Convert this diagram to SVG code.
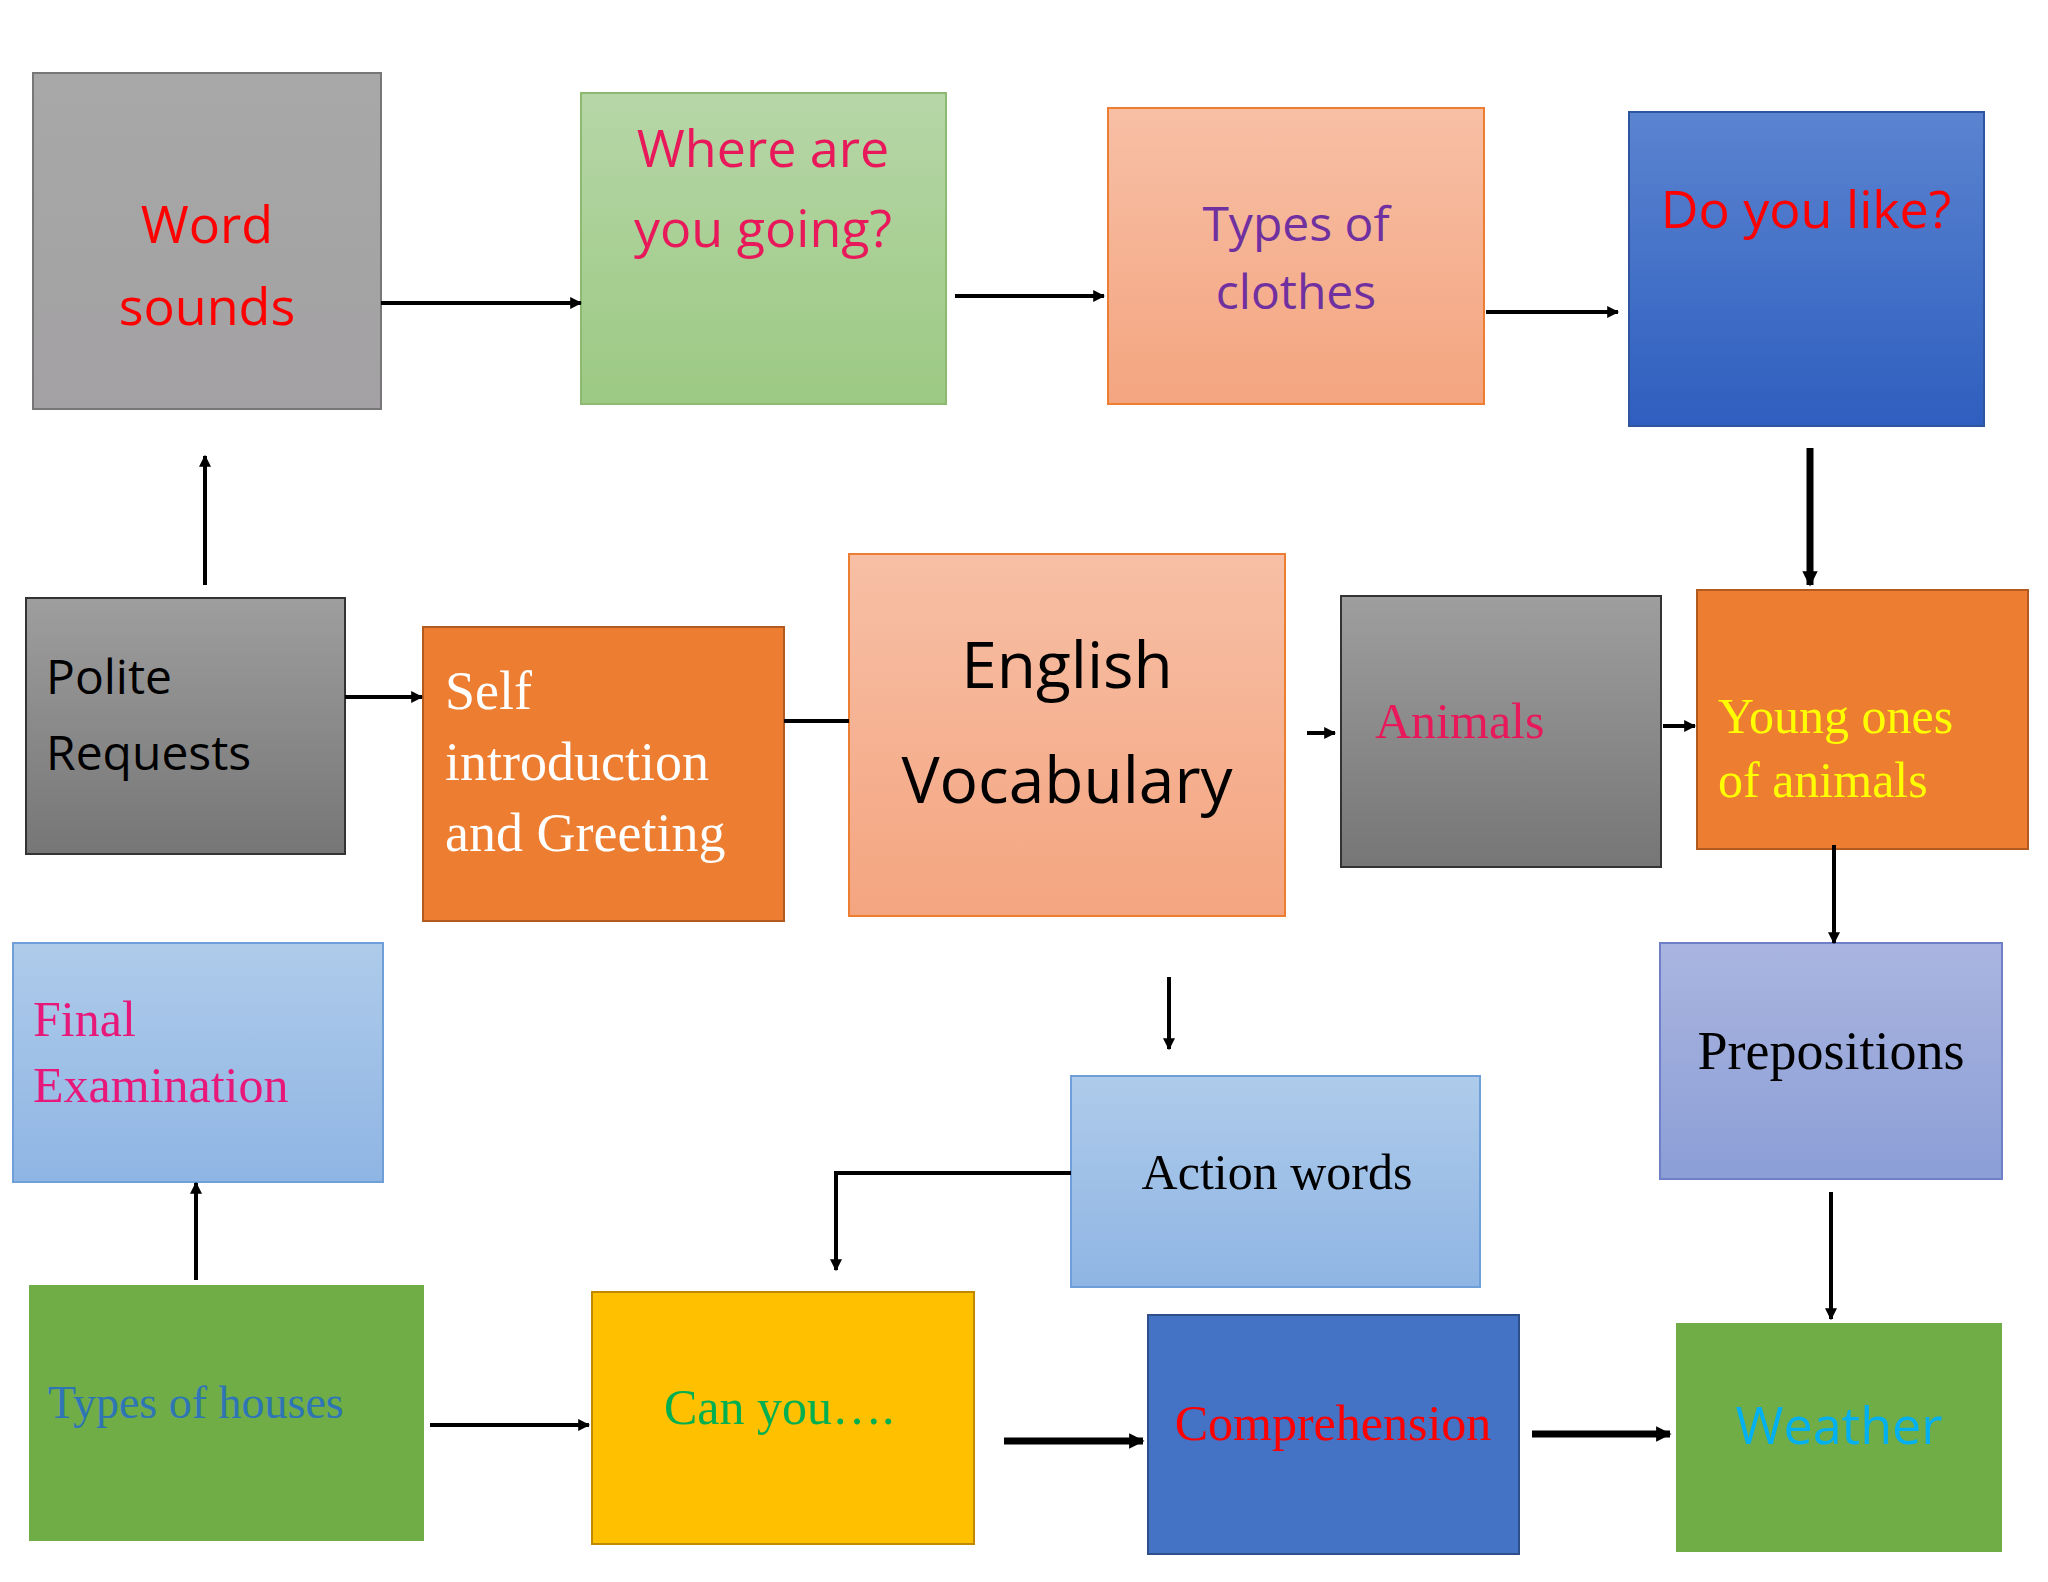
<svg xmlns="http://www.w3.org/2000/svg" width="2048" height="1582" viewBox="0 0 2048 1582">
<style>
.c{font-family:"Open Sans","Liberation Sans",sans-serif}
.s{font-family:"Liberation Serif",serif}
.ln{stroke:#000;fill:none;stroke-width:4}
.tk{stroke:#000;fill:none;stroke-width:7}
</style>
<defs>
<marker id="a" viewBox="0 0 10 10" refX="9" refY="5" markerWidth="3" markerHeight="3" orient="auto"><path d="M0,0L10,5L0,10z" fill="#000"/></marker>
<marker id="b" viewBox="0 0 10 10" refX="9" refY="5" markerWidth="2.2" markerHeight="2.2" orient="auto"><path d="M0,0L10,5L0,10z" fill="#000"/></marker>
<linearGradient id="gG" x1="0" y1="0" x2="0" y2="1"><stop offset="0" stop-color="#a8a8a8"/><stop offset="1" stop-color="#a3a1a3"/></linearGradient>
<linearGradient id="gD" x1="0" y1="0" x2="0" y2="1"><stop offset="0" stop-color="#9e9e9e"/><stop offset="1" stop-color="#767676"/></linearGradient>
<linearGradient id="gGr" x1="0" y1="0" x2="0" y2="1"><stop offset="0" stop-color="#b6d6a7"/><stop offset="1" stop-color="#9cc983"/></linearGradient>
<linearGradient id="gS" x1="0" y1="0" x2="0" y2="1"><stop offset="0" stop-color="#f7bfa5"/><stop offset="1" stop-color="#f4a580"/></linearGradient>
<linearGradient id="gB" x1="0" y1="0" x2="0" y2="1"><stop offset="0" stop-color="#5b84d0"/><stop offset="1" stop-color="#2e5ebf"/></linearGradient>
<linearGradient id="gL" x1="0" y1="0" x2="0" y2="1"><stop offset="0" stop-color="#aecbea"/><stop offset="1" stop-color="#8fb5e4"/></linearGradient>
<linearGradient id="gP" x1="0" y1="0" x2="0" y2="1"><stop offset="0" stop-color="#aab5e0"/><stop offset="1" stop-color="#8b9ed6"/></linearGradient>
</defs>
<rect width="2048" height="1582" fill="#fff"/>
<g id="n1"><rect x="33" y="73" width="348" height="336" fill="url(#gG)" stroke="#777" stroke-width="2"/><text class="c" font-size="52" fill="#f00" text-anchor="middle" x="207" y="243">Word</text><text class="c" font-size="52" fill="#f00" text-anchor="middle" x="207" y="325">sounds</text></g>
<g id="n2"><rect x="581" y="93" width="365" height="311" fill="url(#gGr)" stroke="#8cba70" stroke-width="2"/><text class="c" font-size="52" fill="#e8185a" text-anchor="middle" x="763" y="167">Where are</text><text class="c" font-size="52" fill="#e8185a" text-anchor="middle" x="763" y="247">you going?</text></g>
<g id="n3"><rect x="1108" y="108" width="376" height="296" fill="url(#gS)" stroke="#ed7d31" stroke-width="2"/><text class="c" font-size="48" fill="#7030a0" text-anchor="middle" x="1296" y="241">Types of</text><text class="c" font-size="48" fill="#7030a0" text-anchor="middle" x="1296" y="309">clothes</text></g>
<g id="n4"><rect x="1629" y="112" width="355" height="314" fill="url(#gB)" stroke="#2f55a0" stroke-width="2"/><text class="c" font-size="52" fill="#f00" text-anchor="middle" x="1806" y="228">Do you like?</text></g>
<g id="n5"><rect x="26" y="598" width="319" height="256" fill="url(#gD)" stroke="#333" stroke-width="2"/><text class="c" font-size="48" fill="#000" x="46" y="694">Polite</text><text class="c" font-size="48" fill="#000" x="46" y="770">Requests</text></g>
<g id="n6"><rect x="423" y="627" width="361" height="294" fill="#ed7d31" stroke="#b35a1f" stroke-width="2"/><text class="s" font-size="54" fill="#fff" x="445" y="709">Self</text><text class="s" font-size="54" fill="#fff" x="445" y="780">introduction</text><text class="s" font-size="54" fill="#fff" x="445" y="851">and Greeting</text></g>
<g id="n7"><rect x="849" y="554" width="436" height="362" fill="url(#gS)" stroke="#ed7d31" stroke-width="2"/><text class="c" font-size="64" fill="#000" text-anchor="middle" x="1067" y="688">English</text><text class="c" font-size="64" fill="#000" text-anchor="middle" x="1067" y="803">Vocabulary</text></g>
<g id="n8"><rect x="1341" y="596" width="320" height="271" fill="url(#gD)" stroke="#333" stroke-width="2"/><text class="s" font-size="50" fill="#e8185a" x="1375" y="738">Animals</text></g>
<g id="n9"><rect x="1697" y="590" width="331" height="259" fill="#ed7d31" stroke="#b35a1f" stroke-width="2"/><text class="s" font-size="50" fill="#ff0" x="1718" y="733">Young ones</text><text class="s" font-size="50" fill="#ff0" x="1718" y="797">of animals</text></g>
<g id="n10"><rect x="13" y="943" width="370" height="239" fill="url(#gL)" stroke="#6f9fd8" stroke-width="2"/><text class="s" font-size="50" fill="#e8187a" x="33" y="1036">Final</text><text class="s" font-size="50" fill="#e8187a" x="33" y="1102">Examination</text></g>
<g id="n11"><rect x="1071" y="1076" width="409" height="211" fill="url(#gL)" stroke="#6f9fd8" stroke-width="2"/><text class="s" font-size="50" fill="#000" text-anchor="middle" x="1277" y="1189">Action words</text></g>
<g id="n12"><rect x="1660" y="943" width="342" height="236" fill="url(#gP)" stroke="#6f80c8" stroke-width="2"/><text class="s" font-size="54" fill="#000" text-anchor="middle" x="1831" y="1069">Prepositions</text></g>
<g id="n13"><rect x="29" y="1285" width="395" height="256" fill="#70ad47"/><text class="s" font-size="46" fill="#2e75b6" x="48" y="1418">Types of houses</text></g>
<g id="n14"><rect x="592" y="1292" width="382" height="252" fill="#ffc000" stroke="#c08a00" stroke-width="2"/><text class="s" font-size="50" fill="#00b050" x="664" y="1424">Can you….</text></g>
<g id="n15"><rect x="1148" y="1315" width="371" height="239" fill="#4472c4" stroke="#2f4f8a" stroke-width="2"/><text class="s" font-size="50" fill="#f00" text-anchor="middle" x="1333" y="1440">Comprehension</text></g>
<g id="n16"><rect x="1676" y="1323" width="326" height="229" fill="#70ad47"/><text class="c" font-size="52" fill="#00b0f0" text-anchor="middle" x="1839" y="1444">Weather</text></g>
<g id="edges">
<path class="ln" d="M381,303H581" marker-end="url(#a)"/>
<path class="ln" d="M955,296H1104" marker-end="url(#a)"/>
<path class="ln" d="M1486,312H1618" marker-end="url(#a)"/>
<path class="tk" d="M1810,448V585" marker-end="url(#b)"/>
<path class="ln" d="M205,585V456" marker-end="url(#a)"/>
<path class="ln" d="M345,697H422" marker-end="url(#a)"/>
<path class="ln" d="M784,721H849"/>
<path class="ln" d="M1307,733H1335" marker-end="url(#a)"/>
<path class="ln" d="M1663,726H1695" marker-end="url(#a)"/>
<path class="ln" d="M1834,845V943" marker-end="url(#a)"/>
<path class="ln" d="M1169,977V1049" marker-end="url(#a)"/>
<path class="ln" d="M1071,1173H836V1270" marker-end="url(#a)"/>
<path class="ln" d="M1831,1192V1319" marker-end="url(#a)"/>
<path class="ln" d="M196,1280V1183" marker-end="url(#a)"/>
<path class="ln" d="M430,1425H589" marker-end="url(#a)"/>
<path class="tk" d="M1004,1441H1143" marker-end="url(#b)"/>
<path class="tk" d="M1532,1434H1670" marker-end="url(#b)"/>
</g>
</svg>
